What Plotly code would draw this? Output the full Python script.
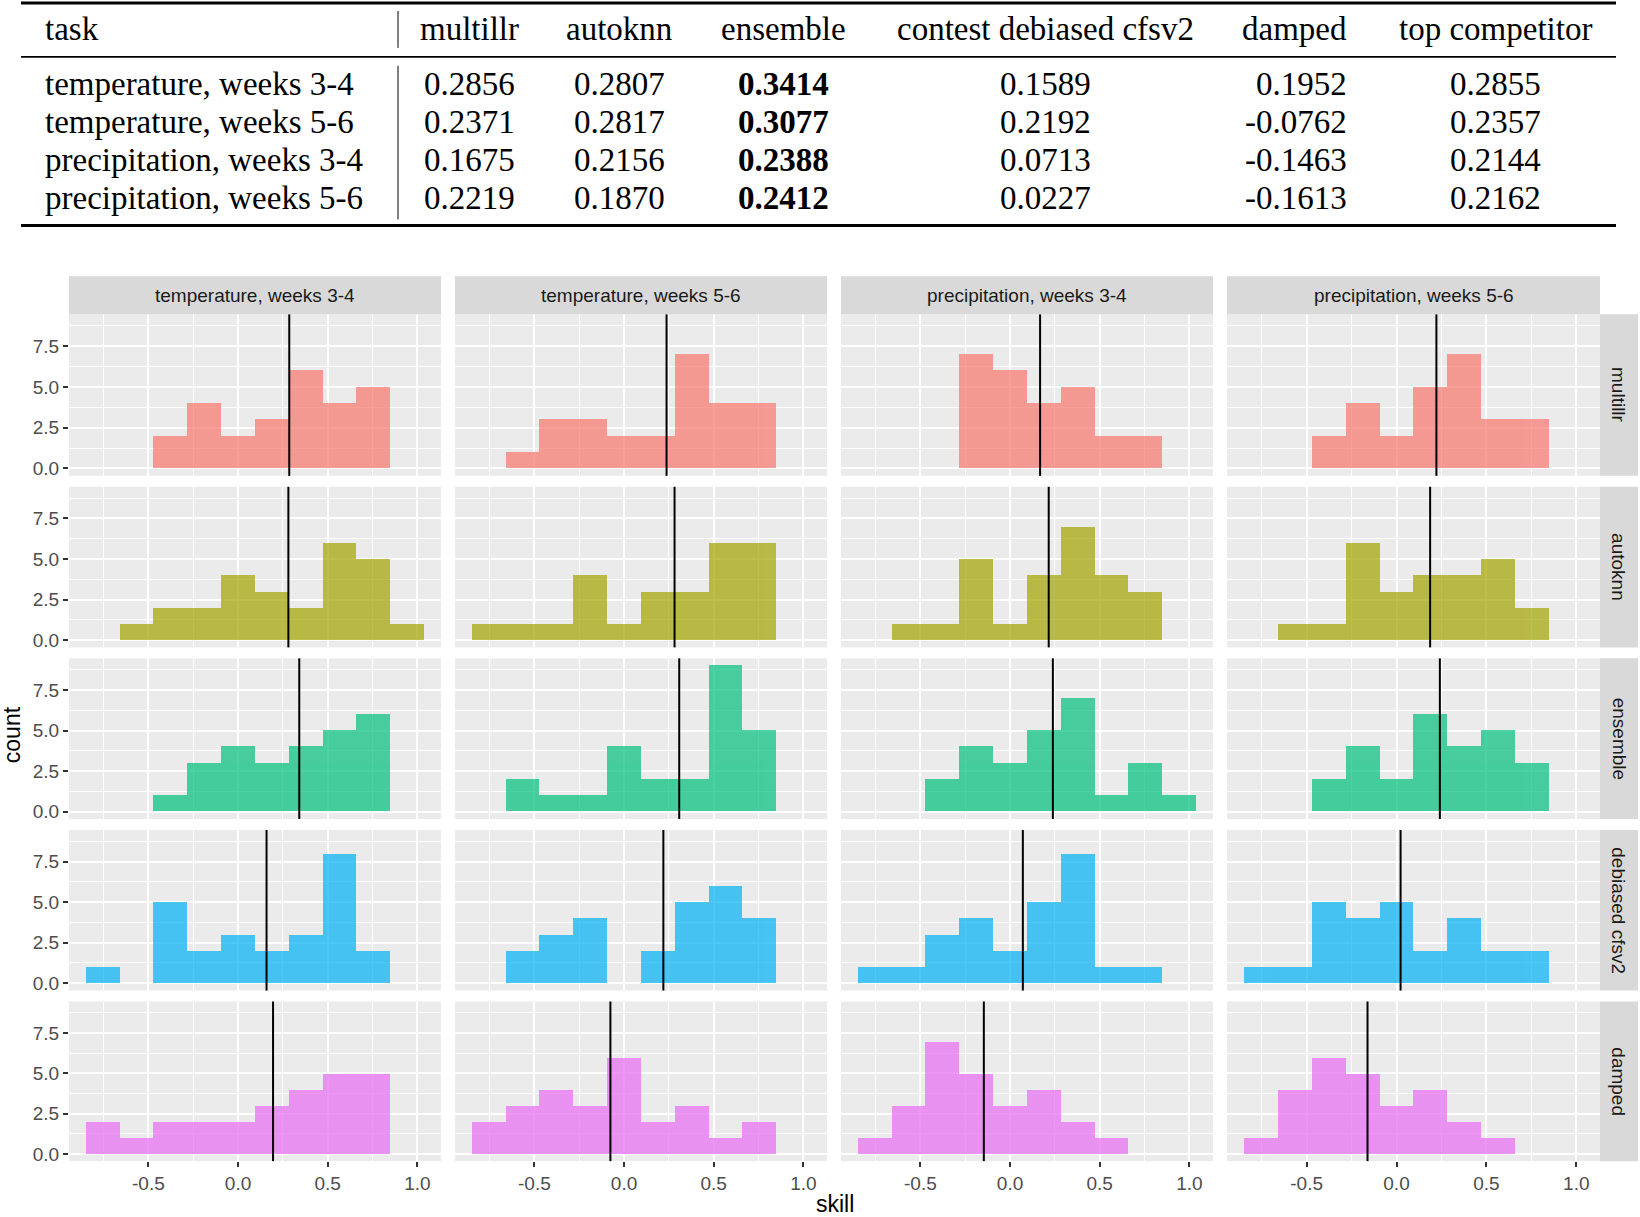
import plotly.graph_objects as go

# --- table data ---
TASKS = ["temperature, weeks 3-4", "temperature, weeks 5-6",
         "precipitation, weeks 3-4", "precipitation, weeks 5-6"]
MODELS = ["multillr", "autoknn", "ensemble", "debiased cfsv2", "damped"]
TABLE_HEADERS = ["multillr", "autoknn", "ensemble", "contest debiased cfsv2",
                 "damped", "top competitor"]

SKILL_MULTILLR = [0.2856, 0.2371, 0.1675, 0.2219]
SKILL_AUTOKNN = [0.2807, 0.2817, 0.2156, 0.1870]
SKILL_ENSEMBLE = [0.3414, 0.3077, 0.2388, 0.2412]
SKILL_CFSV2 = [0.1589, 0.2192, 0.0713, 0.0227]
SKILL_DAMPED = [0.1952, -0.0762, -0.1463, -0.1613]
SKILL_TOP = [0.2855, 0.2357, 0.2144, 0.2162]

# --- histogram data: counts per bin, one list per task ---
BIN_EDGES = [-0.849, -0.660, -0.472, -0.283, -0.094, 0.094, 0.283, 0.472, 0.660, 0.849, 1.038]

COUNTS_MULTILLR = [
    [0, 0, 2, 4, 2, 3, 6, 4, 5, 0],
    [0, 1, 3, 3, 2, 2, 7, 4, 4, 0],
    [0, 0, 0, 7, 6, 4, 5, 2, 2, 0],
    [0, 0, 2, 4, 2, 5, 7, 3, 3, 0],
]
COUNTS_AUTOKNN = [
    [0, 1, 2, 2, 4, 3, 2, 6, 5, 1],
    [1, 1, 1, 4, 1, 3, 3, 6, 6, 0],
    [0, 1, 1, 5, 1, 4, 7, 4, 3, 0],
    [0, 1, 1, 6, 3, 4, 4, 5, 2, 0],
]
COUNTS_ENSEMBLE = [
    [0, 0, 1, 3, 4, 3, 4, 5, 6, 0],
    [0, 2, 1, 1, 4, 2, 2, 9, 5, 0],
    [0, 0, 2, 4, 3, 5, 7, 1, 3, 1],
    [0, 0, 2, 4, 2, 6, 4, 5, 3, 0],
]
COUNTS_CFSV2 = [
    [1, 0, 5, 2, 3, 2, 3, 8, 2, 0],
    [0, 2, 3, 4, 0, 2, 5, 6, 4, 0],
    [1, 1, 3, 4, 2, 5, 8, 1, 1, 0],
    [1, 1, 5, 4, 5, 2, 4, 2, 2, 0],
]
COUNTS_DAMPED = [
    [2, 1, 2, 2, 2, 3, 4, 5, 5, 0],
    [2, 3, 4, 3, 6, 2, 3, 1, 2, 0],
    [1, 3, 7, 5, 3, 4, 2, 1, 0, 0],
    [1, 4, 6, 5, 3, 4, 2, 1, 0, 0],
]

COLORS = ["#F8766D", "#A3A500", "#00BF7D", "#00B0F6", "#E76BF3"]

W, H = 1640, 1217
SERIF = "Liberation Serif"
SANS = "Liberation Sans"


def px(x):
    return x / W


def py(y):
    return 1 - y / H


def label(x, y, text, font, xanchor="center", angle=0):
    return dict(xref="paper", yref="paper", x=px(x), y=py(y), text=text,
                xanchor=xanchor, yanchor="middle", showarrow=False,
                textangle=angle, font=font)


def hline(x0, x1, y, width):
    return dict(type="line", xref="paper", yref="paper", x0=px(x0), x1=px(x1),
                y0=py(y), y1=py(y), line=dict(color="black", width=width))


counts_all = [COUNTS_MULTILLR, COUNTS_AUTOKNN, COUNTS_ENSEMBLE, COUNTS_CFSV2, COUNTS_DAMPED]
means_all = [SKILL_MULTILLR, SKILL_AUTOKNN, SKILL_ENSEMBLE, SKILL_CFSV2, SKILL_DAMPED]
centers = [(a + b) / 2 for a, b in zip(BIN_EDGES[:-1], BIN_EDGES[1:])]
widths = [b - a for a, b in zip(BIN_EDGES[:-1], BIN_EDGES[1:])]

COL_X = [(69, 441), (455, 827), (841, 1213), (1227, 1600)]
ROW_Y = [(315, 477), (488, 649), (660, 821), (832, 993), (1004, 1164)]

STRIP_FONT = dict(family=SANS, size=19, color="#1A1A1A")
TICK_FONT = dict(family=SANS, size=19, color="#4D4D4D")

fig = go.Figure()
layout = {}
shapes = []
annotations = []

for r, model in enumerate(MODELS):
    for c, task in enumerate(TASKS):
        i = r * 4 + c + 1
        sfx = "" if i == 1 else str(i)
        fig.add_trace(go.Bar(
            x=centers, y=counts_all[r][c], width=widths,
            marker=dict(color=COLORS[r], line=dict(width=0)), opacity=0.7,
            xaxis="x" + sfx, yaxis="y" + sfx, showlegend=False, hoverinfo="x+y"))
        x0, x1 = COL_X[c]
        y0, y1 = ROW_Y[r]
        bottom = r == len(MODELS) - 1
        left = c == 0
        layout["xaxis" + sfx] = dict(
            domain=[px(x0), px(x1)], anchor="y" + sfx, range=[-0.943, 1.132],
            tickvals=[-0.5, 0.0, 0.5, 1.0], ticktext=["-0.5", "0.0", "0.5", "1.0"],
            showticklabels=bottom, ticks="outside" if bottom else "",
            ticklen=5, tickwidth=1.5, tickcolor="#333333", tickfont=TICK_FONT,
            showgrid=True, gridcolor="white", gridwidth=1.8, zeroline=False,
            minor=dict(tickvals=[-0.75, -0.25, 0.25, 0.75], showgrid=True,
                       gridcolor="white", gridwidth=0.8),
            showline=False, fixedrange=True)
        layout["yaxis" + sfx] = dict(
            domain=[py(y1), py(y0)], anchor="x" + sfx, range=[-0.45, 9.45],
            tickvals=[0, 2.5, 5, 7.5], ticktext=["0.0", "2.5", "5.0", "7.5"],
            showticklabels=left, ticks="outside" if left else "",
            ticklen=5, tickwidth=1.5, tickcolor="#333333", tickfont=TICK_FONT,
            showgrid=True, gridcolor="white", gridwidth=1.8, zeroline=False,
            minor=dict(tickvals=[1.25, 3.75, 6.25, 8.75], showgrid=True,
                       gridcolor="white", gridwidth=0.8),
            showline=False, fixedrange=True)
        # mean skill line
        shapes.append(dict(type="line", xref="x" + sfx, yref="y" + sfx + " domain",
                           x0=means_all[r][c], x1=means_all[r][c], y0=0, y1=1,
                           line=dict(color="black", width=2)))

# facet strips
for c, task in enumerate(TASKS):
    x0, x1 = COL_X[c]
    shapes.append(dict(type="rect", xref="paper", yref="paper", x0=px(x0), x1=px(x1),
                       y0=py(315), y1=py(277), fillcolor="#D9D9D9", line=dict(width=0)))
    annotations.append(label((x0 + x1) / 2, 296, task, STRIP_FONT))
for r, model in enumerate(MODELS):
    y0, y1 = ROW_Y[r]
    shapes.append(dict(type="rect", xref="paper", yref="paper", x0=px(1600), x1=px(1638),
                       y0=py(y1), y1=py(y0), fillcolor="#D9D9D9", line=dict(width=0)))
    annotations.append(label(1619, (y0 + y1) / 2, model, STRIP_FONT, angle=90))

# axis titles
annotations.append(label(835, 1207, "skill", dict(family=SANS, size=23, color="black")))
annotations.append(label(12, 737, "count", dict(family=SANS, size=23, color="black"), angle=-90))

# --- table on top ---
TBL_FONT = dict(family=SERIF, size=33, color="black")
HEADER_Y = 29
ROWS_Y = [84, 122, 160, 198]
COL_CENTERS = [470, 619, 783, 1045, None, 1495]
DAMPED_RIGHT = 1349

shapes.append(hline(21, 1616, 3, 3))
shapes.append(hline(21, 1616, 57, 1.8))
shapes.append(hline(21, 1616, 226, 3))
shapes.append(dict(type="line", xref="paper", yref="paper", x0=px(398), x1=px(398),
                   y0=py(11), y1=py(48), line=dict(color="black", width=1)))
shapes.append(dict(type="line", xref="paper", yref="paper", x0=px(398), x1=px(398),
                   y0=py(66), y1=py(220), line=dict(color="black", width=1)))

annotations.append(label(43, HEADER_Y, "task", TBL_FONT, xanchor="left"))
for j, head in enumerate(TABLE_HEADERS):
    if COL_CENTERS[j] is None:
        annotations.append(label(DAMPED_RIGHT, HEADER_Y, head, TBL_FONT, xanchor="right"))
    else:
        annotations.append(label(COL_CENTERS[j], HEADER_Y, head, TBL_FONT))

table_cols = [SKILL_MULTILLR, SKILL_AUTOKNN, SKILL_ENSEMBLE, SKILL_CFSV2, SKILL_DAMPED, SKILL_TOP]
for k, task in enumerate(TASKS):
    annotations.append(label(43, ROWS_Y[k], task, TBL_FONT, xanchor="left"))
    for j, col in enumerate(table_cols):
        txt = f"{col[k]:.4f}"
        if j == 2:
            txt = f"<b>{txt}</b>"
        if COL_CENTERS[j] is None:
            annotations.append(label(DAMPED_RIGHT, ROWS_Y[k], txt, TBL_FONT, xanchor="right"))
        else:
            annotations.append(label(COL_CENTERS[j], ROWS_Y[k], txt, TBL_FONT))

fig.update_layout(
    width=W, height=H,
    margin=dict(l=0, r=0, t=0, b=0),
    paper_bgcolor="white", plot_bgcolor="#EBEBEB",
    bargap=0, barmode="overlay",
    shapes=shapes, annotations=annotations,
    **layout)

fig.write_html("out.html", config={"displayModeBar": False},
               post_script="document.body.style.margin='0';")
